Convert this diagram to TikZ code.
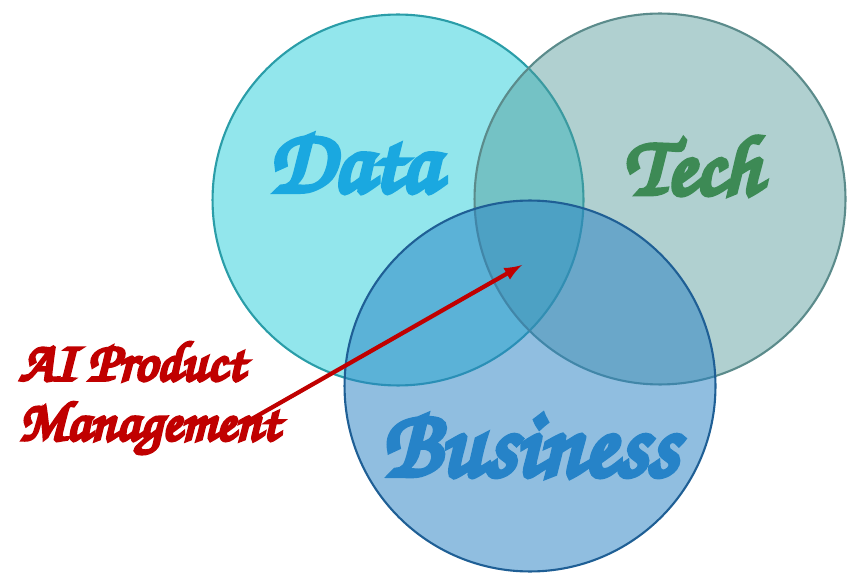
\documentclass[tikz,border=0pt]{standalone}
\usepackage{xcolor}
\usepackage{fontspec}
\usepackage{tikz}
\usetikzlibrary{shapes,arrows,positioning,fit,calc}

\newfontfamily\brushfont[FakeBold=6]{TeX Gyre Chorus}

\definecolor{datafill}{HTML}{92E6EC}
\definecolor{dataline}{HTML}{2A9DA8}
\definecolor{techfill}{HTML}{509797}
\definecolor{techline}{HTML}{5B8B8B}
\definecolor{busfill}{HTML}{2A83C4}
\definecolor{busline}{HTML}{1F5F95}
\definecolor{datatext}{HTML}{1AA8E0}
\definecolor{techtext}{HTML}{3D8A55}
\definecolor{bustext}{HTML}{2683C8}
\definecolor{pmred}{HTML}{C00000}

\tikzset{
    set/.style={circle, draw, line width=1.2pt, minimum size=7.42cm, inner sep=0pt},
    setname/.style={font=\brushfont\fontsize{52}{52}\selectfont},
}

\begin{document}
\begin{tikzpicture}[x=0.02cm, y=-0.02cm]
    \useasboundingbox (0,0) rectangle (857,580);
    \node (data) [set, fill=datafill, draw=dataline] at (398,200) {};
    \node (tech) [set, fill=techfill, fill opacity=0.45, draw=techline] at (660,199) {};
    \node (business) [set, fill=busfill, fill opacity=0.52, draw=busline] at (530,386) {};

    \node (datalabel) [setname, text=datatext] at (354,164) {Data};
    \node (techlabel) [setname, text=techtext, font=\brushfont\fontsize{48}{48}\selectfont] at (692,166) {Tech};
    \node (buslabel) [setname, text=bustext, font=\brushfont\fontsize{55}{55}\selectfont] at (530,446) {Business};

    \node (pm) [font=\brushfont\fontsize{32}{34}\selectfont, text=pmred, align=left, anchor=north west] at (13,336) {AI Product\\Management};

    \coordinate (tail) at (250,420);
    \coordinate (core) at (522,265);
    \draw [-latex, pmred, line width=2.4pt] (tail) -- (core);
\end{tikzpicture}
\end{document}
